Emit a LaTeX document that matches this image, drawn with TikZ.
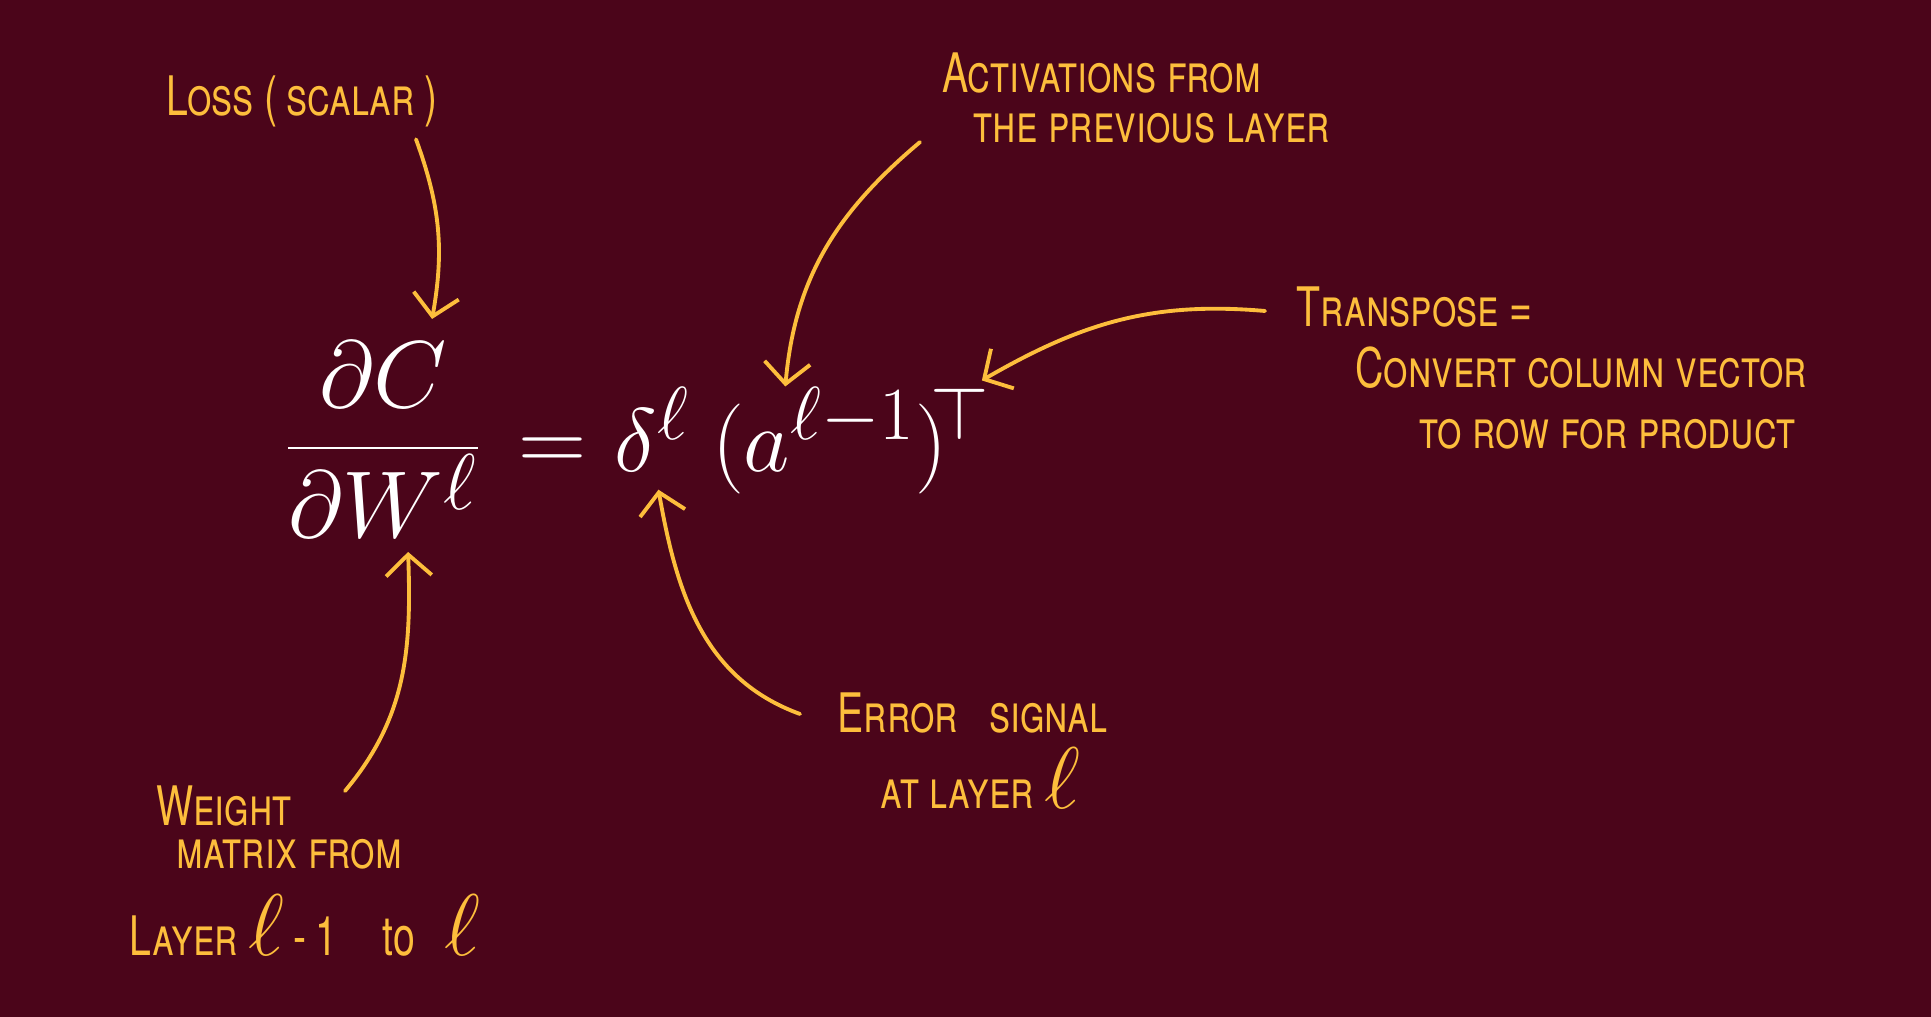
\documentclass[tikz,border=0pt]{standalone}
\usepackage{fontspec}
\newfontfamily\handfont[Letters=SmallCaps,FakeStretch=0.72,WordSpace=1.9]{TeX Gyre Heros}
\newfontfamily\handlow[FakeStretch=0.72]{TeX Gyre Heros}
\usetikzlibrary{arrows.meta}
\definecolor{board}{RGB}{75,5,26}
\definecolor{marker}{RGB}{253,190,60}
\newcommand{\bigell}{{\fontsize{24}{24}\selectfont$\ell$}}
\tikzset{
  eqn/.style={text=white, inner sep=0pt, anchor=base west, font=\Huge, scale=1.03},
  note/.style={text=marker, inner sep=0pt, align=left, anchor=north west, font=\fontsize{15.5}{18}\selectfont\handfont},
  pointer/.style={draw=marker, line width=1.1pt, line cap=round, -{Straight Barb[length=6pt,width=13pt]}},
}
\begin{document}
\begin{tikzpicture}
    \useasboundingbox (0,0) rectangle (19.31,-10.17);
    \fill[board] (0,0) rectangle (19.31,-10.17);
    % the formula
    \node[eqn, scale=1.055] (frac) at (2.83,-4.72) {$\displaystyle\frac{\partial C}{\partial W^{\ell}}$};
    \node[eqn, scale=1.05, xshift=0.32cm] (eq) at (frac.base east) {$=$};
    \node[eqn, xshift=0.26cm] (delta) at (eq.base east) {$\delta^{\ell}$};
    \node[eqn, xshift=0.2cm] (act) at (delta.base east) {$(a^{\ell-1})^{\mkern-4mu\top}$};
    % notes
    \node[note, anchor=west] (loss) at (1.66,-1.01) {Loss (\,scalar\,)};
    \node[note] (actlbl) at (9.42,-0.52) {Activations from\\[-3.7pt]\hspace*{0.31cm}the previous layer};
    \node[note] (trans) at (12.96,-2.86) {Transpose =\\[-0.6pt]\hspace*{0.59cm}Convert column vector\\[-0.6pt]\hspace*{1.23cm}to row for product};
    \node[note] (err) at (8.37,-6.92) {Error\hspace{0.2cm} signal\\[3.7pt]\hspace*{0.43cm}at layer \bigell};
    \node[note] (wt) at (1.29,-7.85) {\hspace*{0.27cm}Weight\\[-5.7pt]\hspace*{0.47cm}matrix from\\[6.6pt]Layer \bigell\,-\,1\hspace{0.45cm}{\handlow to}\hspace{0.3cm}\bigell};
    % pointers
    \draw[pointer] ([xshift=2.5cm,yshift=-0.12cm]loss.south west) to[out=-70,in=80] ([xshift=0.49cm,yshift=0.22cm]frac.north);
    \draw[pointer] ([xshift=-0.22cm,yshift=0.02cm]actlbl.south west) to[out=-140,in=85] ([xshift=0.74cm,yshift=0.0cm]act.north west);
    \draw[pointer] ([xshift=-0.31cm,yshift=-0.25cm]trans.north west) to[out=175,in=30] ([xshift=-0.1cm,yshift=0.06cm]act.north east);
    \draw[pointer] ([xshift=-0.37cm,yshift=-0.22cm]err.north west) to[out=160,in=-80] ([xshift=0.06cm,yshift=-0.17cm]delta.south);
    \draw[pointer] ([xshift=2.16cm,yshift=-0.06cm]wt.north west) to[out=50,in=-88] ([xshift=0.25cm,yshift=-0.14cm]frac.south);
\end{tikzpicture}
\end{document}
